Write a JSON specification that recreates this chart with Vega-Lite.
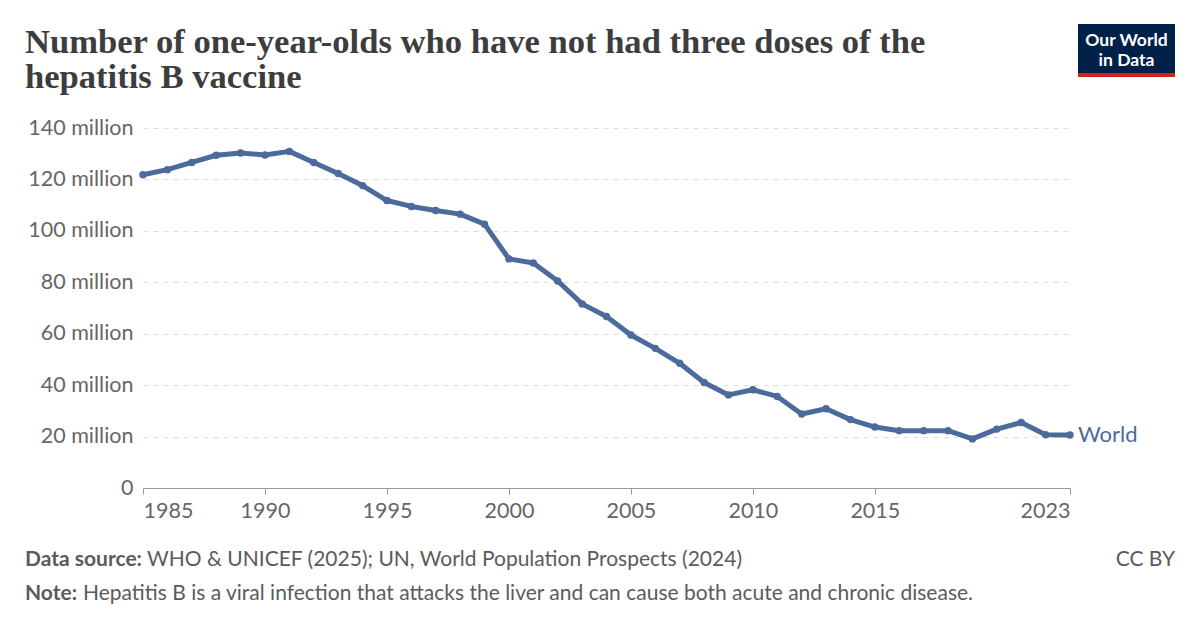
{
  "$schema": "https://vega.github.io/schema/vega-lite/v6.json",
  "background": "white",
  "padding": {"left": 25, "top": 24, "right": 25, "bottom": 0},
  "config": {
    "view": {"stroke": null},
    "font": "Lato"
  },
  "bounds": "full",
  "spacing": 18,
  "vconcat": [
    {
      "bounds": "full",
      "spacing": 8,
      "hconcat": [
        {
          "width": 927,
          "height": 75,
          "data": {"values": [{"title": "Number of one-year-olds who have not had three doses of the\nhepatitis B vaccine"}]},
          "mark": {
            "type": "text",
            "align": "left",
            "baseline": "alphabetic",
            "lineBreak": "\n",
            "lineHeight": 35,
            "dx": -118,
            "dy": 29,
            "font": "Liberation Serif",
            "fontSize": 34.6,
            "fontWeight": "bold",
            "color": "#3d3d3d"
          },
          "encoding": {
            "x": {"datum": 0, "type": "quantitative", "scale": {"domain": [0, 1]}, "axis": null},
            "y": {"datum": 1, "type": "quantitative", "scale": {"domain": [0, 1]}, "axis": null},
            "text": {"field": "title"}
          }
        },
        {
          "width": 97,
          "height": 53,
          "data": {"values": [{"name": "Our World\nin Data"}]},
          "encoding": {
            "x": {"datum": 0, "type": "quantitative", "scale": {"domain": [0, 1], "nice": false}, "axis": null},
            "y": {"datum": 0, "type": "quantitative", "scale": {"domain": [0, 1], "nice": false}, "axis": null}
          },
          "layer": [
            {
              "mark": {"type": "rect", "color": "#002147"},
              "encoding": {"x2": {"datum": 1}, "y2": {"datum": 1}}
            },
            {
              "mark": {"type": "rect", "color": "#ce261e"},
              "encoding": {"x2": {"datum": 1}, "y2": {"datum": 0.075}}
            },
            {
              "mark": {
                "type": "text",
                "align": "center",
                "baseline": "alphabetic",
                "lineBreak": "\n",
                "lineHeight": 20,
                "dy": 22,
                "font": "Lato",
                "fontSize": 17.5,
                "fontWeight": "bold",
                "color": "white"
              },
              "encoding": {
                "x": {"datum": 0.5, "type": "quantitative"},
                "y": {"datum": 1, "type": "quantitative"},
                "text": {"field": "name"}
              }
            }
          ]
        }
      ]
    },
    {
      "bounds": "full",
      "spacing": 21,
      "vconcat": [
        {
          "width": 927,
          "height": 360,
          "data": {
            "values": [
              {"entity": "World", "year": 1985, "value": 121.8},
              {"entity": "World", "year": 1986, "value": 123.8},
              {"entity": "World", "year": 1987, "value": 126.6},
              {"entity": "World", "year": 1988, "value": 129.4},
              {"entity": "World", "year": 1989, "value": 130.3},
              {"entity": "World", "year": 1990, "value": 129.5},
              {"entity": "World", "year": 1991, "value": 130.9},
              {"entity": "World", "year": 1992, "value": 126.6},
              {"entity": "World", "year": 1993, "value": 122.3},
              {"entity": "World", "year": 1994, "value": 117.6},
              {"entity": "World", "year": 1995, "value": 111.8},
              {"entity": "World", "year": 1996, "value": 109.5},
              {"entity": "World", "year": 1997, "value": 107.9},
              {"entity": "World", "year": 1998, "value": 106.5},
              {"entity": "World", "year": 1999, "value": 102.6},
              {"entity": "World", "year": 2000, "value": 89.1},
              {"entity": "World", "year": 2001, "value": 87.5},
              {"entity": "World", "year": 2002, "value": 80.5},
              {"entity": "World", "year": 2003, "value": 71.6},
              {"entity": "World", "year": 2004, "value": 66.7},
              {"entity": "World", "year": 2005, "value": 59.5},
              {"entity": "World", "year": 2006, "value": 54.3},
              {"entity": "World", "year": 2007, "value": 48.5},
              {"entity": "World", "year": 2008, "value": 41.0},
              {"entity": "World", "year": 2009, "value": 36.2},
              {"entity": "World", "year": 2010, "value": 38.2},
              {"entity": "World", "year": 2011, "value": 35.6},
              {"entity": "World", "year": 2012, "value": 28.8},
              {"entity": "World", "year": 2013, "value": 30.8},
              {"entity": "World", "year": 2014, "value": 26.6},
              {"entity": "World", "year": 2015, "value": 23.7},
              {"entity": "World", "year": 2016, "value": 22.3},
              {"entity": "World", "year": 2017, "value": 22.3},
              {"entity": "World", "year": 2018, "value": 22.3},
              {"entity": "World", "year": 2019, "value": 19.1},
              {"entity": "World", "year": 2020, "value": 22.9},
              {"entity": "World", "year": 2021, "value": 25.5},
              {"entity": "World", "year": 2022, "value": 20.7},
              {"entity": "World", "year": 2023, "value": 20.6}
            ]
          },
          "encoding": {
            "x": {
              "field": "year",
              "type": "quantitative",
              "scale": {"domain": [1985, 2023], "nice": false, "zero": false},
              "axis": {
                "title": null,
                "values": [1985, 1990, 1995, 2000, 2005, 2010, 2015, 2023],
                "format": "d",
                "labelFlush": true,
                "grid": false,
                "domainColor": "#999999",
                "tickColor": "#999999",
                "tickSize": 6,
                "labelPadding": 6,
                "labelFont": "Lato",
                "labelFontSize": 21.5,
                "labelColor": "#666666"
              }
            },
            "y": {
              "field": "value",
              "type": "quantitative",
              "scale": {"domain": [0, 140], "nice": false},
              "axis": {
                "title": null,
                "values": [0, 20, 40, 60, 80, 100, 120, 140],
                "labelExpr": "datum.value == 0 ? '0' : datum.value + ' million'",
                "domain": false,
                "ticks": false,
                "grid": true,
                "gridColor": "#dddddd",
                "gridDash": [5, 5],
                "gridWidth": 1,
                "labelPadding": 10,
                "labelFont": "Lato",
                "labelFontSize": 21.5,
                "labelColor": "#666666"
              }
            }
          },
          "layer": [
            {
              "mark": {"type": "line", "color": "#4c6a9c", "strokeWidth": 5, "strokeJoin": "round", "strokeCap": "round"}
            },
            {
              "mark": {"type": "point", "filled": true, "color": "#4c6a9c", "size": 55, "opacity": 1}
            },
            {
              "transform": [{"filter": "datum.year == 2023"}],
              "mark": {"type": "text", "align": "left", "baseline": "middle", "dx": 8, "font": "Lato", "fontSize": 22, "color": "#4c6a9c"},
              "encoding": {"text": {"field": "entity"}}
            }
          ]
        },
        {
          "width": 1032,
          "height": 68,
          "data": {
            "values": [
              {"line": 1, "head": "Data source:", "body": "WHO & UNICEF (2025); UN, World Population Prospects (2024)", "license": "CC BY"},
              {"line": 2, "head": "Note:", "body": "Hepatitis B is a viral infection that attacks the liver and can cause both acute and chronic disease.", "license": ""}
            ]
          },
          "encoding": {
            "y": {"field": "line", "type": "ordinal", "scale": {"type": "point", "padding": 0.5}, "axis": null}
          },
          "layer": [
            {
              "mark": {"type": "text", "align": "left", "baseline": "middle", "dx": -118, "font": "Lato", "fontSize": 21, "fontWeight": "bold", "color": "#5b5b5b"},
              "encoding": {
                "x": {"datum": 0, "type": "quantitative", "scale": {"domain": [0, 1], "nice": false}, "axis": null},
                "text": {"field": "head"}
              }
            },
            {
              "transform": [{"filter": "datum.line == 1"}],
              "mark": {"type": "text", "align": "left", "baseline": "middle", "dx": 4, "font": "Lato", "fontSize": 21, "color": "#5b5b5b"},
              "encoding": {
                "x": {"datum": 0, "type": "quantitative"},
                "text": {"field": "body"}
              }
            },
            {
              "transform": [{"filter": "datum.line == 2"}],
              "mark": {"type": "text", "align": "left", "baseline": "middle", "dx": -60, "font": "Lato", "fontSize": 21, "color": "#5b5b5b"},
              "encoding": {
                "x": {"datum": 0, "type": "quantitative"},
                "text": {"field": "body"}
              }
            },
            {
              "mark": {"type": "text", "align": "right", "baseline": "middle", "font": "Lato", "fontSize": 21, "color": "#5b5b5b"},
              "encoding": {
                "x": {"datum": 1, "type": "quantitative"},
                "text": {"field": "license"}
              }
            }
          ]
        }
      ]
    }
  ]
}
